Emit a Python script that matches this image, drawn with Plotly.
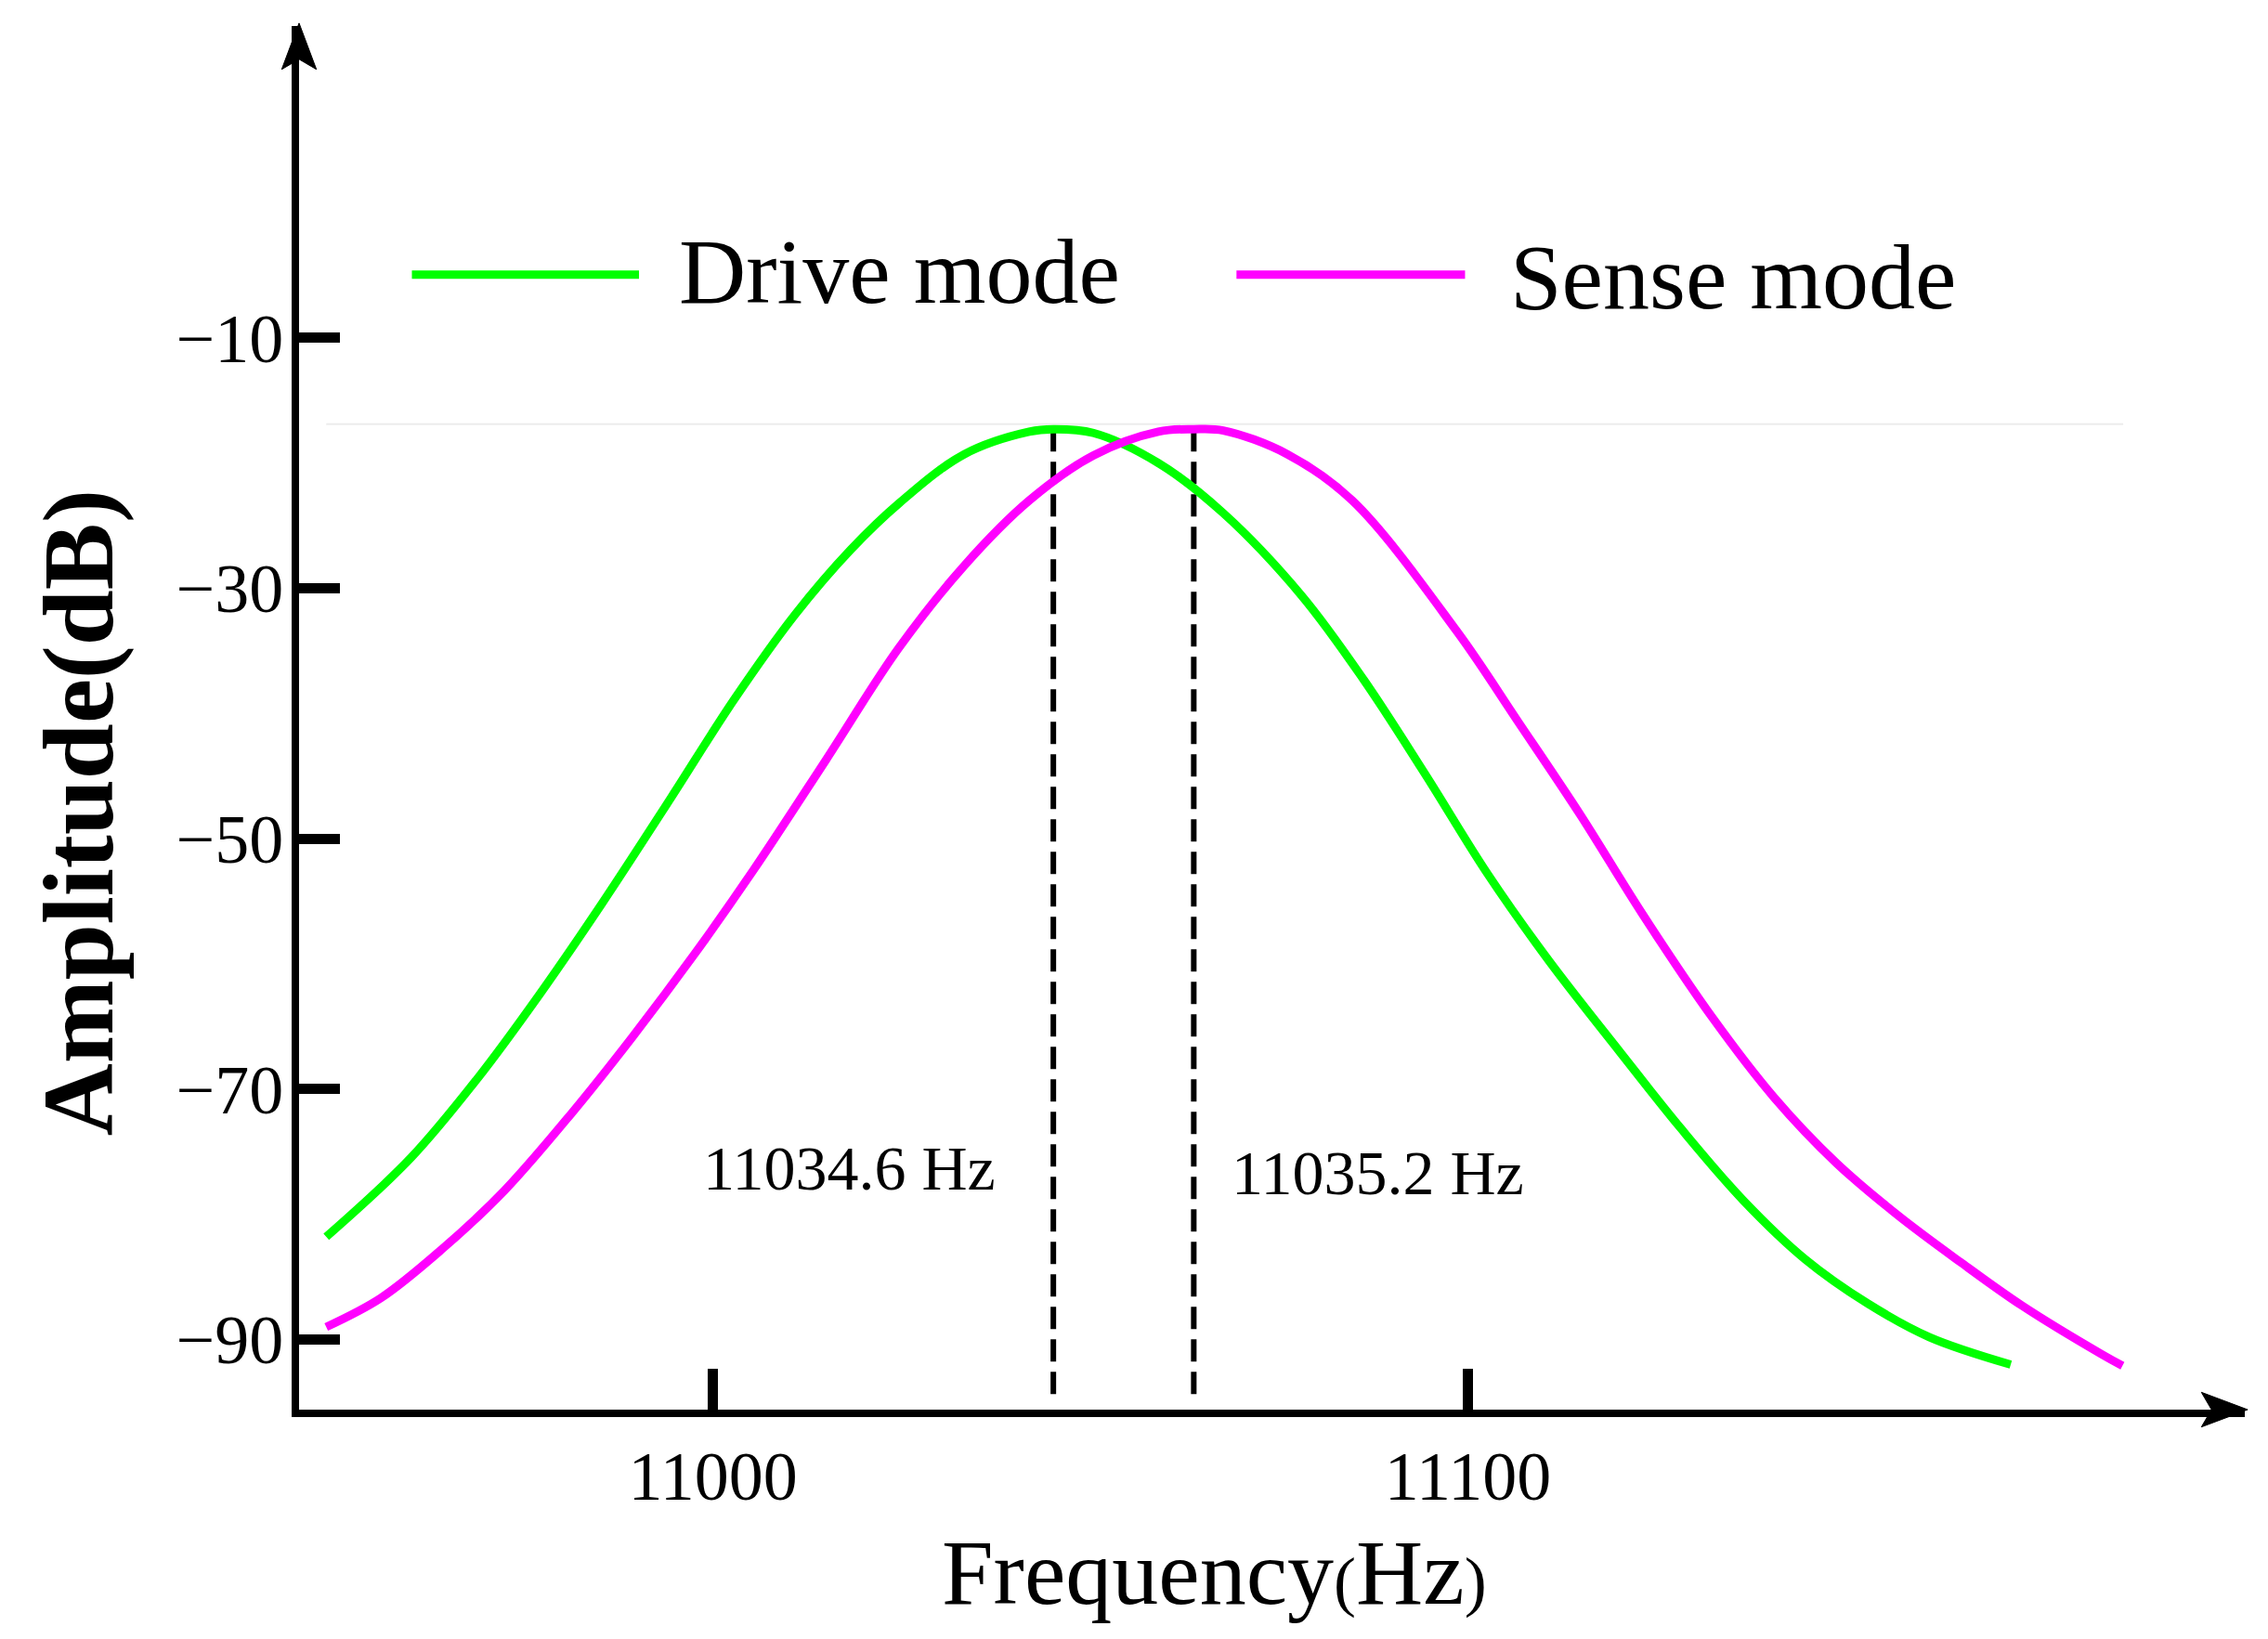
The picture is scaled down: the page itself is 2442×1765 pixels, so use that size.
import plotly.graph_objects as go

# data
drive_freq = [10948.8, 10960.0, 10968.9, 10977.1, 10985.3, 10994.5, 11002.7, 11010.9,
              11018.3, 11024.7, 11033.3, 11041.9, 11045.1, 11050.4, 11059.0, 11067.6,
              11078.0, 11086.2, 11094.4, 11102.6, 11110.8, 11120.1, 11128.3, 11136.5,
              11144.7, 11152.9, 11161.1, 11171.9]
drive_amp = [-81.8, -75.5, -69.1, -62.4, -55.2, -46.7, -39.0, -32.1,
             -26.9, -23.2, -19.3, -17.5, -17.3, -17.6, -20.0, -24.0,
             -30.6, -37.3, -44.9, -52.8, -59.8, -67.0, -73.2, -78.9,
             -83.6, -87.1, -89.8, -92.0]

sense_freq = [10948.8, 10956.0, 10964.1, 10972.4, 10981.2, 10989.4, 10997.6, 11005.4,
              11015.0, 11024.6, 11033.3, 11041.9, 11050.4, 11059.0, 11063.7, 11067.6,
              11076.1, 11084.7, 11098.5, 11106.7, 11114.9, 11123.1, 11132.4,
              11140.6, 11148.8, 11157.0, 11165.2, 11173.4, 11184.0, 11186.7]
sense_amp = [-89.0, -86.7, -82.8, -78.1, -72.0, -65.8, -59.2, -52.5,
             -43.7, -34.8, -28.2, -23.0, -19.4, -17.5, -17.3, -17.4,
             -19.3, -23.0, -33.4, -40.7, -48.1, -56.0, -64.3,
             -70.7, -75.9, -80.1, -83.8, -87.3, -91.2, -92.1]

peak_freqs = [11045.1, 11063.7]
peak_amp = -17.3
dash_bottom = -94.8
ref_level = -16.9
ref_span = [10948.8, 11186.8]

peak_labels = ["11034.6 Hz", "11035.2 Hz"]
peak_label_x = [11018.1, 11088.1]
peak_label_y = [-76.3, -76.7]

x_ticks = [11000, 11100]
y_ticks = [-10, -30, -50, -70, -90]
x_range = [10945.2, 11202.9]
y_range = [-95.6, 14.9]

GREEN = "#00ff00"
MAGENTA = "#ff00ff"
FONT = "Liberation Serif"

W, H = 2442, 1765
S = W / 1568.0  # reference drawn at 1568 px wide
L, R, T, B = 207 * S, W - 1552 * S, 18 * S, H - 975 * S


def px(xd):
    return (xd * S - L) / (W - L - R)


def py(yd):
    return 1 - (yd * S - T) / (H - T - B)


fig = go.Figure()

fig.add_trace(go.Scatter(x=ref_span, y=[ref_level, ref_level], mode="lines",
                         line=dict(color="#ececec", width=2), showlegend=False))
for f in peak_freqs:
    fig.add_trace(go.Scatter(x=[f, f], y=[peak_amp, dash_bottom], mode="lines",
                             line=dict(color="black", width=6, dash="24px,11px"),
                             showlegend=False))
fig.add_trace(go.Scatter(x=drive_freq, y=drive_amp, mode="lines", name="Drive mode",
                         line=dict(color=GREEN, width=9, shape="spline", smoothing=1),
                         showlegend=False))
fig.add_trace(go.Scatter(x=sense_freq, y=sense_amp, mode="lines", name="Sense mode",
                         line=dict(color=MAGENTA, width=9, shape="spline", smoothing=1),
                         showlegend=False))

for txt, lx, ly in zip(peak_labels, peak_label_x, peak_label_y):
    fig.add_annotation(x=lx, y=ly, text=txt, showarrow=False,
                       font=dict(family=FONT, size=68, color="black"))

# legend drawn by hand (long line samples)
fig.add_shape(type="line", xref="paper", yref="paper", x0=px(285), x1=px(442),
              y0=py(190), y1=py(190), line=dict(color=GREEN, width=9))
fig.add_shape(type="line", xref="paper", yref="paper", x0=px(855), x1=px(1013),
              y0=py(190), y1=py(190), line=dict(color=MAGENTA, width=9))
fig.add_annotation(xref="paper", yref="paper", x=px(468), y=py(188), text="Drive mode",
                   xanchor="left", yanchor="middle", showarrow=False,
                   font=dict(family=FONT, size=100, color="black"))
fig.add_annotation(xref="paper", yref="paper", x=px(1043), y=py(192), text="Sense mode",
                   xanchor="left", yanchor="middle", showarrow=False,
                   font=dict(family=FONT, size=100, color="black"))

# axis titles
fig.add_annotation(xref="paper", yref="paper", x=px(55), y=py(562),
                   xanchor="center", yanchor="middle",
                   text="<b>Amplitude(dB)</b>", textangle=-90, showarrow=False,
                   font=dict(family=FONT, size=108, color="black"))
fig.add_annotation(xref="paper", yref="paper", x=px(840), y=py(1088),
                   xanchor="center", yanchor="middle",
                   text="Frequency<span style='font-size:72px'>(</span>Hz"
                        "<span style='font-size:72px'>)</span>",
                   showarrow=False, font=dict(family=FONT, size=100, color="black"))

# arrow heads
fig.add_shape(type="path", xref="paper", yref="paper", fillcolor="black",
              line=dict(color="black", width=1),
              path=f"M {px(207)},{py(16)} L {px(195)},{py(48)} L {px(207)},{py(41)} "
                   f"L {px(219)},{py(48)} Z")
fig.add_shape(type="path", xref="paper", yref="paper", fillcolor="black",
              line=dict(color="black", width=1),
              path=f"M {px(1554)},{py(975)} L {px(1522)},{py(963)} L {px(1529)},{py(975)} "
                   f"L {px(1522)},{py(987)} Z")

axis_common = dict(showgrid=False, zeroline=False, showline=True, linecolor="black",
                   linewidth=8, ticks="inside", tickcolor="black", tickwidth=11,
                   ticklen=44, tickfont=dict(family=FONT, size=74, color="black"))
fig.update_xaxes(range=x_range, tickvals=x_ticks, tickformat="d",
                 ticklabelstandoff=0, **axis_common)
fig.update_yaxes(range=y_range, tickvals=y_ticks, ticklabelstandoff=-6, **axis_common)

fig.update_layout(width=W, height=H, plot_bgcolor="white", paper_bgcolor="white",
                  margin=dict(l=L, r=R, t=T, b=B, autoexpand=False), showlegend=False)

fig.write_html("out.html", config={"displayModeBar": False},
               post_script="document.body.style.margin='0';")
